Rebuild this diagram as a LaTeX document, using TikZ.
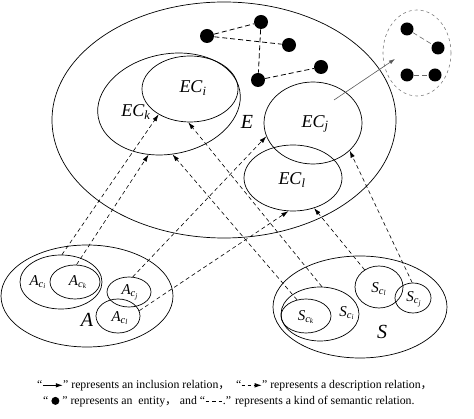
\documentclass[tikz,border=0pt]{standalone}
\usepackage{fontspec}
\setmainfont{Liberation Serif}
\newfontfamily\cjk{Noto Sans CJK SC}
\usetikzlibrary{shapes.geometric,arrows.meta}
\newcommand{\legsolid}{\tikz[baseline=-3.5pt]\draw[line width=0.7pt,-{Latex[length=7pt,width=4.5pt]}] (0pt,0pt) -- (20pt,0pt);}
\newcommand{\legdash}{\tikz[baseline=-3.5pt]\draw[line width=0.7pt,dash pattern=on 3.5pt off 2.5pt,-{Latex[length=7pt,width=4.5pt]}] (0pt,0pt) -- (20pt,0pt);}
\newcommand{\legsem}{\tikz[baseline=-3.5pt]\draw[line width=0.7pt,dash pattern=on 3.5pt off 3pt] (0pt,0pt) -- (17pt,0pt);}
\newcommand{\legdot}{\tikz[baseline=-4pt]\fill (0pt,0pt) circle (4pt);}
\begin{document}
\begin{tikzpicture}[x=1pt,y=-1pt,line width=0.7pt,
  ell/.style={draw,ellipse,inner sep=0pt},
  gdot/.style={circle,fill=black,minimum size=14pt,inner sep=0pt},
  sdot/.style={circle,fill=black,minimum size=13pt,inner sep=0pt},
  sem/.style={dash pattern=on 5pt off 3pt,line width=0.8pt},
  desc/.style={dash pattern=on 4pt off 3pt,line width=0.6pt,-{Latex[length=7pt,width=4.5pt]}},
  biglab/.style={font=\fontsize{20}{20}\selectfont\itshape},
  eclab/.style={font=\fontsize{18}{18}\selectfont\itshape},
  sublab/.style={font=\fontsize{15}{15}\selectfont\itshape},
  leg/.style={font=\fontsize{11.8}{14}\selectfont,inner sep=0pt}]
\useasboundingbox (0,0) rectangle (474,419);
% main entity set
\node[ell,minimum width=344pt,minimum height=236pt] (E) at (224,120) {};
\node[biglab] (lE) at (247,122) {E};
\node[ell,minimum width=144pt,minimum height=100pt,rotate=11] (ECk) at (169,104) {};
\node[ell,minimum width=96pt,minimum height=66pt] (ECi) at (190,89) {};
\node[ell,minimum width=98pt,minimum height=82pt] (ECj) at (313,123) {};
\node[ell,minimum width=98pt,minimum height=66pt] (ECl) at (293,178) {};
\node[eclab] (lECi) at (193,88) {EC\textsubscript{i}};
\node[eclab] (lECk) at (136,112) {EC\textsubscript{k}};
\node[eclab] (lECj) at (315,124) {EC\textsubscript{j}};
\node[eclab] (lECl) at (292,180) {EC\textsubscript{l}};
% entities
\node[gdot] (d1) at (207,36) {};
\node[gdot] (d2) at (261,22) {};
\node[gdot] (d3) at (289,45) {};
\node[gdot] (d4) at (258,80) {};
\node[gdot] (d5) at (321,67) {};
\draw[sem] (d1) -- (d2);
\draw[sem] (d1) -- (d3);
\draw[sem] (d2) -- (d4);
\draw[sem] (d4) -- (d5);
% group
\node[ell,draw=gray,dashed,line width=0.6pt,minimum width=68pt,minimum height=86pt] (G) at (417,53) {};
\node[sdot] (r1) at (407,29) {};
\node[sdot] (r2) at (438,48) {};
\node[sdot] (r3) at (407,75) {};
\node[sdot] (r4) at (435,75) {};
\draw[sem,draw=gray!80!black,line width=0.6pt] (r1) -- (r2);
\draw[sem,draw=gray!80!black,line width=0.6pt] (r3) -- (r4);
\coordinate (js) at (334,100);
\coordinate (gt) at (395,59);
\draw[draw=gray!70!black,line width=0.6pt,-{Latex[length=6pt,width=4pt]}] (js) -- (gt);
% A set
\node[ell,minimum width=172pt,minimum height=102pt] (A) at (87,296) {};
\node[ell,minimum width=82pt,minimum height=54pt] (Aci) at (61,282) {};
\node[ell,minimum width=50pt,minimum height=34pt] (Ack) at (75,282) {};
\node[ell,minimum width=44pt,minimum height=30pt] (Acj) at (129,292) {};
\node[ell,minimum width=44pt,minimum height=34pt] (Acl) at (118,316) {};
\node[biglab] (lA) at (87,320) {A};
\node[sublab] (lAci) at (38,282) {A\textsubscript{c\textsubscript{i}}};
\node[sublab] (lAck) at (78,282) {A\textsubscript{c\textsubscript{k}}};
\node[sublab] (lAcj) at (130,292) {A\textsubscript{c\textsubscript{j}}};
\node[sublab] (lAcl) at (120,318) {A\textsubscript{c\textsubscript{l}}};
% S set
\node[ell,minimum width=174pt,minimum height=102pt] (S) at (360,307) {};
\node[ell,minimum width=78pt,minimum height=54pt] (Sci) at (320,314) {};
\node[ell,minimum width=50pt,minimum height=34pt] (Sck) at (306,316) {};
\node[ell,minimum width=48pt,minimum height=42pt] (Scl) at (379,287) {};
\node[ell,minimum width=36pt,minimum height=30pt] (Scj) at (413,298) {};
\node[biglab] (lS) at (382,332) {S};
\node[sublab] (lSck) at (306,317) {S\textsubscript{c\textsubscript{k}}};
\node[sublab] (lSci) at (347,313) {S\textsubscript{c\textsubscript{i}}};
\node[sublab] (lScl) at (379,289) {S\textsubscript{c\textsubscript{l}}};
\node[sublab] (lScj) at (414,299) {S\textsubscript{c\textsubscript{j}}};
% description relations
\draw[desc] (Aci.88) -- (ECi.219);
\draw[desc] (Ack.85) -- (ECk.237);
\draw[desc] (Sck.119) -- (ECk.263);
\draw[desc] (Sci.86) -- (ECi.267);
\draw[desc] (Acj.76) -- (ECj.196);
\draw[desc] (Acl.14) -- (ECl.262);
\draw[desc] (Scl.130) -- (ECl.305);
\draw[desc] (Scj.93) -- (ECj.323);
% legend
\node[leg,anchor=west] (leg1) at (37,386) {“\legsolid” represents an inclusion relation{\cjk ，}\ \ “\legdash” represents a description relation{\cjk ，}};
\node[leg,anchor=west] (leg2) at (43,402) {“ \legdot\ ” represents an\ \ entity{\cjk ，}\ and “\legsem.” represents a kind of semantic relation.};
\end{tikzpicture}
\end{document}
